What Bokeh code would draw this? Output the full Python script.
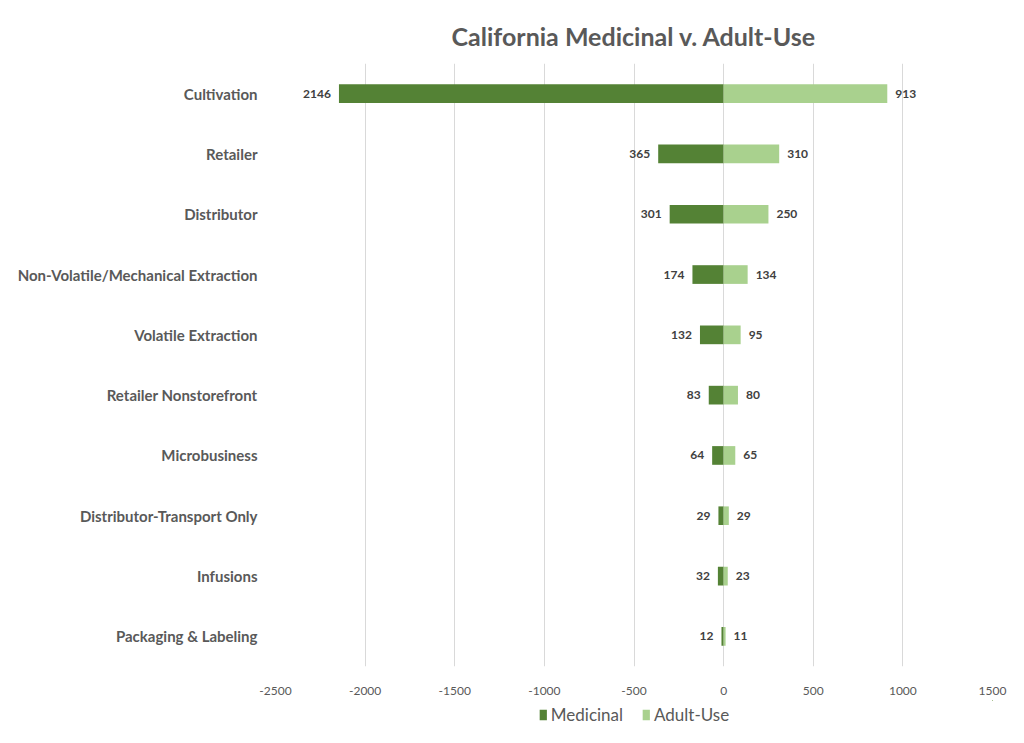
from bokeh.plotting import figure
from bokeh.layouts import column
from bokeh.models import ColumnDataSource, FixedTicker, Legend, LegendItem, FactorRange, Range1d
from bokeh.core.properties import value
from bokeh.embed import file_html
from bokeh.resources import INLINE

categories = ["Cultivation", "Retailer", "Distributor", "Non-Volatile/Mechanical Extraction",
              "Volatile Extraction", "Retailer Nonstorefront", "Microbusiness",
              "Distributor-Transport Only", "Infusions", "Packaging & Labeling"]
medicinal = [2146, 365, 301, 174, 132, 83, 64, 29, 32, 12]
adult_use = [913, 310, 250, 134, 95, 80, 65, 29, 23, 11]
x_ticks = [-2500, -2000, -1500, -1000, -500, 0, 500, 1000, 1500]
series_names = ["Medicinal", "Adult-Use"]

MED_COLOR = "#548235"
ADULT_COLOR = "#A9D18E"
TEXT_COLOR = "#595959"
FONT = "Lato"

src = ColumnDataSource(dict(
    cat=categories,
    med_neg=[-v for v in medicinal],
    med=medicinal,
    adult=adult_use,
    med_lbl=[str(v) for v in medicinal],
    adult_lbl=[str(v) for v in adult_use],
))

p = figure(width=1008, height=700, output_backend="svg", toolbar_location=None,
           y_range=FactorRange(factors=list(reversed(categories)), range_padding=0),
           x_range=Range1d(-2500, 1500),
           min_border_left=274, min_border_right=16, min_border_top=63, min_border_bottom=34)

p.title.text = "California Medicinal v. Adult-Use"
p.title.align = "center"
p.title.text_font = FONT
p.title.text_font_size = "25px"
p.title.text_font_style = "bold"
p.title.text_color = TEXT_COLOR
p.title.standoff = 26

p.hbar(y="cat", left="med_neg", right=0, height=0.31, source=src,
       fill_color=MED_COLOR, line_color=None)
p.hbar(y="cat", left=0, right="adult", height=0.31, source=src,
       fill_color=ADULT_COLOR, line_color=None)

p.text(x="med_neg", y="cat", text="med_lbl", source=src, x_offset=-8,
       text_align="right", text_baseline="middle", text_font=value(FONT),
       text_font_size="12px", text_font_style="bold", text_color="#404040")
p.text(x="adult", y="cat", text="adult_lbl", source=src, x_offset=8,
       text_align="left", text_baseline="middle", text_font=value(FONT),
       text_font_size="12px", text_font_style="bold", text_color="#404040")

p.xaxis.ticker = FixedTicker(ticks=x_ticks)
p.xaxis.major_label_overrides = {t: str(t) for t in x_ticks}
p.xaxis.axis_line_color = None
p.xaxis.major_tick_line_color = None
p.xaxis.minor_tick_line_color = None
p.xaxis.major_label_text_font = FONT
p.xaxis.major_label_text_font_size = "12px"
p.xaxis.major_label_text_color = TEXT_COLOR
p.xaxis.major_label_standoff = 14

p.yaxis.axis_line_color = None
p.yaxis.major_tick_line_color = None
p.yaxis.minor_tick_line_color = None
p.yaxis.major_label_text_font = FONT
p.yaxis.major_label_text_font_size = "15px"
p.yaxis.major_label_text_font_style = "bold"
p.yaxis.major_label_text_color = TEXT_COLOR
p.yaxis.major_label_standoff = 12

p.xgrid.grid_line_color = "#d9d9d9"
p.ygrid.grid_line_color = None
p.outline_line_color = None

# legend strip below the chart (its bars lie outside this strip's ranges, only the legend shows)
lg = figure(width=1008, height=27, output_backend="svg", toolbar_location=None,
            x_range=Range1d(0, 1), y_range=Range1d(0, 1),
            min_border_left=275, min_border_right=16, min_border_top=0, min_border_bottom=0)
lg.axis.visible = False
lg.grid.visible = False
lg.outline_line_color = None
rm = lg.hbar(y="med", left="med", right="med", height=1, source=src,
             fill_color=MED_COLOR, line_color=None)
ra = lg.hbar(y="adult", left="adult", right="adult", height=1, source=src,
             fill_color=ADULT_COLOR, line_color=None)

legend = Legend(items=[LegendItem(label=series_names[0], renderers=[rm], index=0),
                       LegendItem(label=series_names[1], renderers=[ra], index=0)],
                orientation="horizontal", location="bottom",
                label_text_font=FONT, label_text_font_size="17px",
                label_text_color=TEXT_COLOR, glyph_width=9, glyph_height=13,
                label_standoff=4, spacing=18, border_line_color=None,
                background_fill_alpha=0, padding=2, margin=2)
lg.add_layout(legend, "center")

layout = column(p, lg, spacing=0)
open("out.html", "w").write(file_html(layout, INLINE))
